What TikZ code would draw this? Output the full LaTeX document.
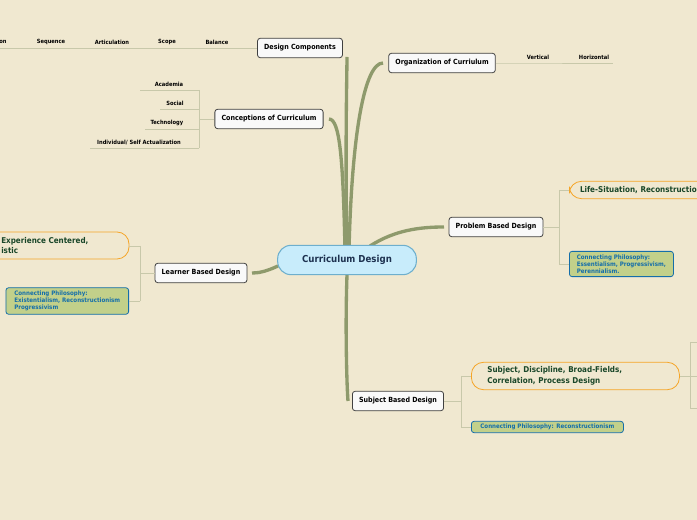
\documentclass[tikz,border=0pt]{standalone}
\usepackage{fontspec}
\setmainfont{DejaVu Sans Condensed}
\definecolor{bg}{RGB}{240,232,208}
\definecolor{conc}{RGB}{142,154,108}
\definecolor{brc}{RGB}{200,200,170}
\definecolor{grf}{RGB}{194,208,138}
\definecolor{grt}{RGB}{20,110,170}
\definecolor{orc}{RGB}{245,165,40}
\definecolor{ort}{RGB}{25,70,40}
\begin{document}
\begin{tikzpicture}[x=0.75pt,y=-0.75pt,
 main/.style={draw=black!75,fill=white!95!gray,rounded corners=2pt,line width=0.6pt,minimum height=14.5pt,inner xsep=5pt,font=\fontsize{5.3}{6}\selectfont\bfseries},
 leaf/.style={font=\fontsize{4.3}{5}\selectfont\bfseries,inner sep=1pt},
 orb/.style={draw=orc,rounded corners=9pt,line width=0.6pt,font=\fontsize{6}{8}\selectfont\bfseries,text=ort,align=left},
 otx/.style={font=\fontsize{6}{8}\selectfont\bfseries,text=ort,align=left,inner sep=0pt},
 grb/.style={draw=grt,fill=grf,rounded corners=2pt,line width=0.6pt,font=\fontsize{4.6}{5.2}\selectfont\bfseries,text=grt,align=left,inner sep=2.5pt},
 br/.style={draw=brc,line width=0.6pt},
 con/.style={draw=conc,line width=2.5pt}]
\fill[bg] (0,0) rectangle (697,520);
\useasboundingbox (0,0) rectangle (697,520);
% connectors from center
\draw[con] (347,250) .. controls (345,150) and (347,70) .. (347,57);
\draw[con] (349,250) .. controls (352,130) and (365,63) .. (383,63);
\draw[con] (345,250) .. controls (343,160) and (340,119) .. (329,119);
\draw[con] (370,246) .. controls (395,230) and (420,227) .. (444,227);
\draw[con] (278,266) .. controls (265,272) and (258,273) .. (252,273);
\draw[con] (347,275) .. controls (345,330) and (347,390) .. (348,401);
\node[draw={rgb,255:red,110;green,175;blue,205},fill={rgb,255:red,200;green,236;blue,251},rounded corners=10pt,line width=0.8pt,minimum width=104pt,minimum height=22pt,font=\fontsize{7.2}{8}\selectfont\bfseries,text={rgb,255:red,30;green,50;blue,80}] (cd) at (347,260) {Curriculum Design};
\node[main] (dc) at (300,48) {Design Components};
\node[main] (oc) at (442,63) {Organization of Curriulum};
\node[main] (cc) at (269,119) {Conceptions of Curriculum};
\node[main] (pb) at (496,227) {Problem Based Design};
\node[main] (lb) at (201,273) {Learner Based Design};
\node[main] (sb) at (398,401) {Subject Based Design};
% design components leaves
\draw[br] (0,48) -- (dc.west);
\foreach \t/\x in {on/3,Sequence/51,Articulation/112,Scope/167,Balance/217}
 \node[leaf] at (\x,42) {\t};
% organization leaves
\draw[br] (oc.east) -- (513,63) -- (613,63);
\node[leaf] (v) at (538,57) {Vertical};
\node[leaf] (h) at (594,57) {Horizontal};
% conceptions
\draw[br] (cc.west) -- (199,119);
\draw[br] (199,90) -- (199,148);
\node[leaf] at (169,84) {Academia};
\draw[br] (140,90) -- (199,90);
\node[leaf] at (175,103) {Social};
\draw[br] (160,109) -- (199,109);
\node[leaf] at (167,123) {Technology};
\draw[br] (145,129) -- (199,129);
\node[leaf] at (139,143) {Individual/ Self Actualization};
\draw[br] (90,148) -- (199,148);
% problem based
\draw[br] (pb.east) -- (559,227);
\draw[br] (559,190) -- (559,264);
\node[orb,anchor=west,minimum height=13pt,inner xsep=8pt,text width=140pt] (ls) at (569,190) {Life-Situation, Reconstructionism};
\draw[br] (559,190) -- (ls.west);
\node[grb,anchor=west,minimum width=78pt] (pg) at (569,264) {Connecting Philosophy:\\Essentialism, Progressivism,\\Perennialism.};
\draw[br] (559,264) -- (pg.west);
% learner based
\draw[br] (lb.west) -- (140,273);
\draw[br] (140,246) -- (140,301);
\draw[orc,line width=0.6pt,rounded corners=9pt] (-30,232) rectangle (129,259);
\coordinate (ece) at (129,246);
\node[otx,anchor=west] (ec) at (1,245.5) {Experience Centered,\\istic};
\draw[br] (140,246) -- (ece);
\node[grb,anchor=east,minimum width=92pt] (lg) at (129,301) {Connecting Philosophy:\\Existentialism, Reconstructionism\\Progressivism};
\draw[br] (140,301) -- (lg.east);
% subject based
\draw[br] (sb.east) -- (461,401);
\draw[br] (461,376) -- (461,427);
\node[orb,anchor=west,minimum height=20pt,inner xsep=12pt,text width=132pt,minimum width=156pt] (sd) at (471,376) {Subject, Discipline, Broad-Fields,\\Correlation, Process Design};
\draw[br] (461,376) -- (sd.west);
\node[grb,anchor=west,inner sep=2pt,minimum width=114pt] (sg) at (471,427) {Connecting Philosophy: Reconstructionism};
\draw[br] (461,427) -- (sg.west);
\draw[br] (sd.east) -- (690,376);
\draw[br] (690,342) -- (690,408);
\draw[br] (690,342) -- (697,342) (690,376) -- (697,376) (690,408) -- (697,408);
\end{tikzpicture}
\end{document}
